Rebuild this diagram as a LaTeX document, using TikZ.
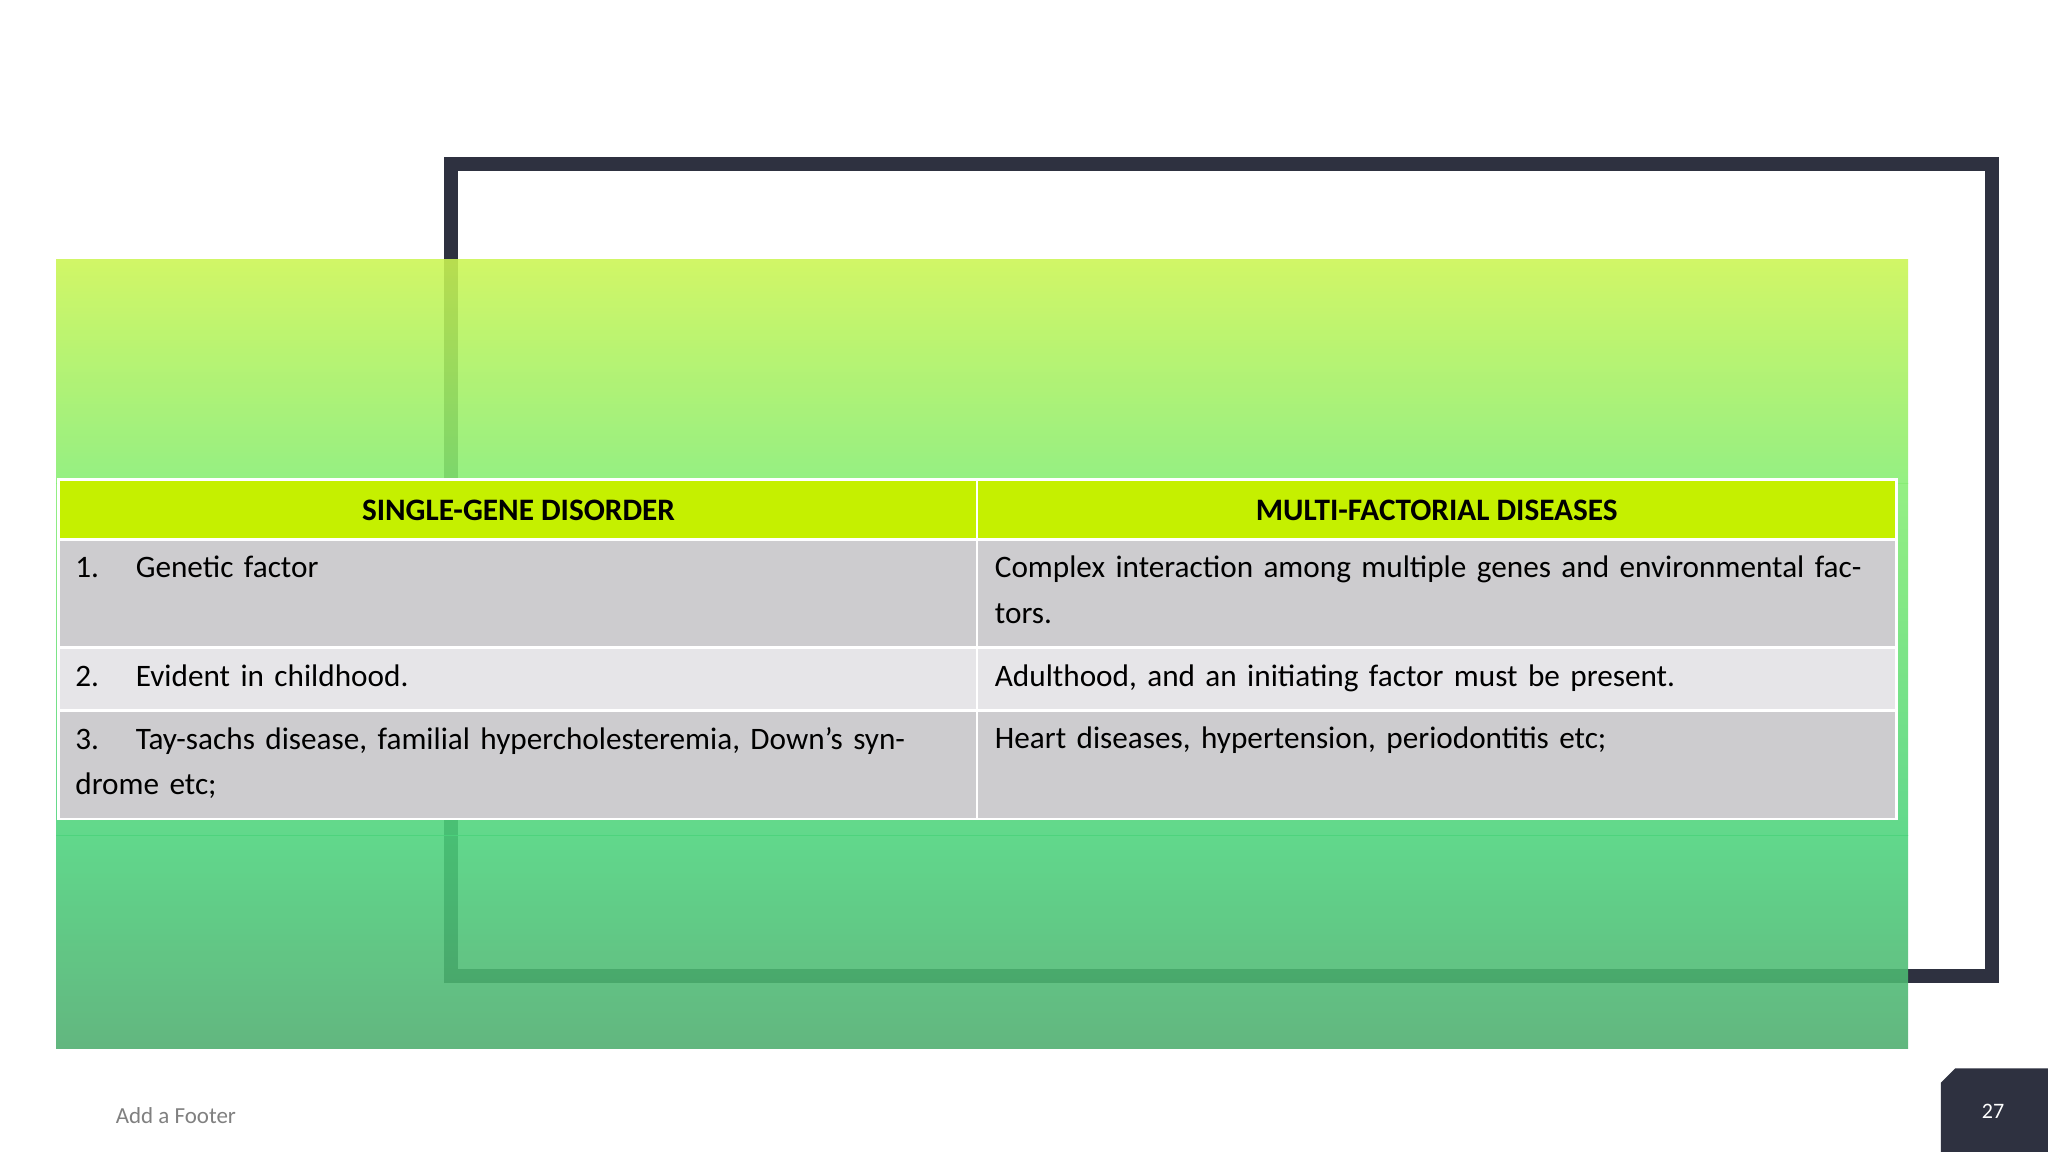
\documentclass[tikz,border=0pt]{standalone}
\usepackage{fontspec}
\setmainfont{Carlito}
\usetikzlibrary{positioning}
\definecolor{frameclr}{HTML}{2E3140}
\definecolor{topgreen}{HTML}{CBF552}
\definecolor{midgreen}{HTML}{86EE72}
\definecolor{lowgreen}{HTML}{4CD37C}
\definecolor{botgreen}{HTML}{4DAD6E}
\definecolor{headclr}{HTML}{C5F000}
\definecolor{darkrow}{HTML}{CDCCCF}
\definecolor{lightrow}{HTML}{E6E5E8}
\tikzstyle{cell} = [draw=white, line width=0.6pt]
\tikzstyle{celltext} = [anchor=north west, inner sep=0pt, text width=6.7cm, align=left, font=\fontsize{6.8pt}{9.9pt}\selectfont]
\tikzstyle{headtext} = [inner sep=0pt, font=\fontsize{6.8pt}{9.9pt}\selectfont\bfseries]
\begin{document}
\begin{tikzpicture}[x=0.01cm,y=-0.01cm]
\useasboundingbox (0,0) rectangle (1568,882);
\fill[white] (0,0) rectangle (1568,882);

% frame behind the panel
\draw[frameclr, line width=3.1pt] (345.5,125.5) rectangle (1525,747);

% gradient panel
\shade[top color=topgreen, bottom color=midgreen, opacity=0.88] (43,199) rectangle (1461,370);
\shade[top color=midgreen, bottom color=lowgreen, opacity=0.88] (43,370) rectangle (1461,640);
\shade[top color=lowgreen, bottom color=botgreen, opacity=0.88] (43,640) rectangle (1461,803);

% table
\filldraw[cell, fill=headclr] (45,367) rectangle (748,413);
\filldraw[cell, fill=headclr] (748,367) rectangle (1452,413);
\filldraw[cell, fill=darkrow] (45,413) rectangle (748,496);
\filldraw[cell, fill=darkrow] (748,413) rectangle (1452,496);
\filldraw[cell, fill=lightrow] (45,496) rectangle (748,544);
\filldraw[cell, fill=lightrow] (748,496) rectangle (1452,544);
\filldraw[cell, fill=darkrow] (45,544) rectangle (748,627);
\filldraw[cell, fill=darkrow] (748,544) rectangle (1452,627);

\node (headleft) [headtext] at (397,391) {SINGLE-GENE DISORDER};
\node (headright) [headtext] at (1100,391) {MULTI-FACTORIAL DISEASES};

\node (onea) [celltext] at (57,425) {1.\hspace{8pt}Genetic factor};
\node (oneb) [celltext] at (761,425) {Complex interaction among multiple genes and environmental factors.};
\node (twoa) [celltext] at (57,508) {2.\hspace{8pt}Evident in childhood.};
\node (twob) [celltext] at (761,508) {Adulthood, and an initiating factor must be present.};
\node (threea) [celltext] at (57,556) {3.\hspace{8pt}Tay-sachs disease, familial hypercholesteremia, Down’s syndrome etc;};
\node (threeb) [celltext] at (761,556) {Heart diseases, hypertension, periodontitis etc;};

% footer
\node (footer) [anchor=west, inner sep=0pt, text=gray, font=\fontsize{5pt}{6pt}\selectfont] at (88,854) {Add a Footer};
\fill[frameclr] (1497,818) -- (1568,818) -- (1568,882) -- (1486,882) -- (1486,829) -- cycle;
\node (pagenum) [inner sep=0pt, text=white, font=\fontsize{4.8pt}{6pt}\selectfont] at (1526,851) {27};
\end{tikzpicture}
\end{document}
